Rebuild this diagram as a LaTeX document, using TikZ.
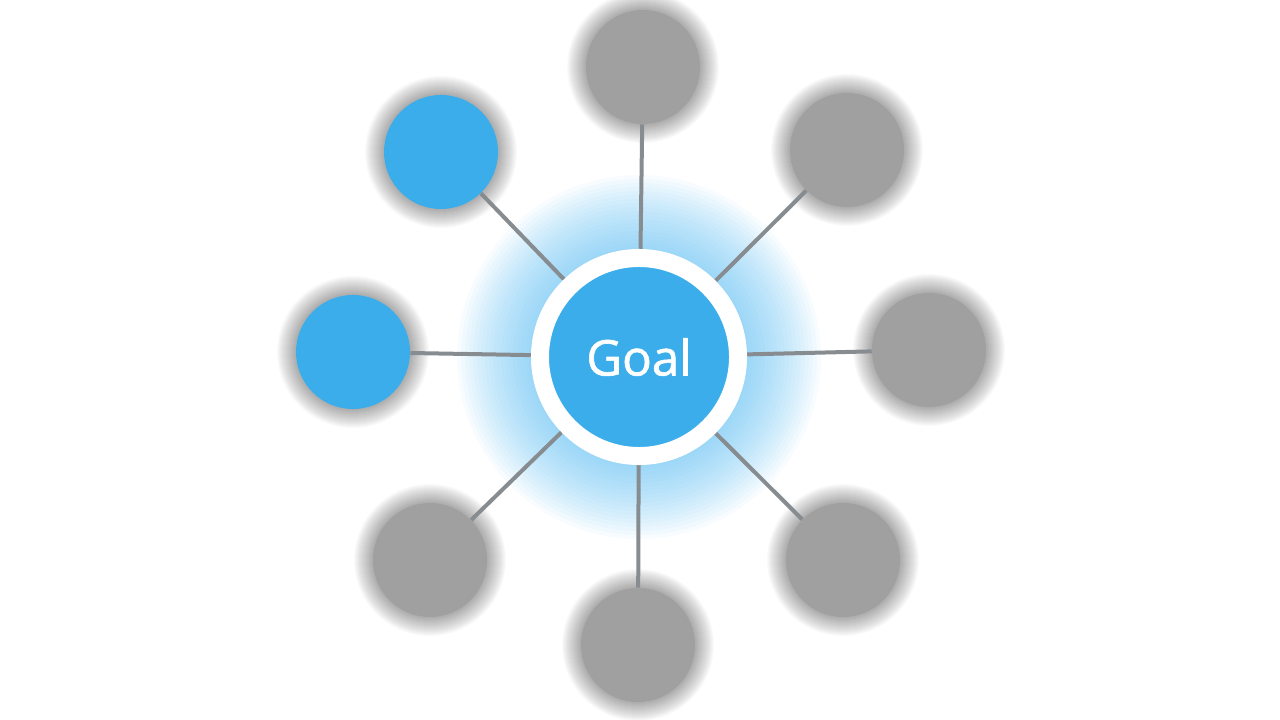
\documentclass[tikz,border=0pt]{standalone}
\usepackage{fontspec}
\setmainfont{Open Sans}
\newfontfamily\goalfont[FakeBold=1.2]{Open Sans}
\usetikzlibrary{backgrounds}

\definecolor{goalblue}{RGB}{58,173,234}
\definecolor{nodegray}{RGB}{160,160,160}
\definecolor{linkgray}{RGB}{135,140,145}
\definecolor{glowblue}{RGB}{70,180,240}

\begin{document}
\begin{tikzpicture}[x=0.025cm, y=-0.025cm,
	goal/.style={circle, fill=goalblue, draw=white, line width=0.45cm, minimum size=4.95cm, inner sep=0pt, text=white, font=\goalfont\fontsize{35}{40}\selectfont},
	sat/.style={circle, minimum size=2.85cm, inner sep=0pt},
	link/.style={draw=linkgray, line width=1mm}]

	\useasboundingbox (0,0) rectangle (1280,720);
				\node [goal] (goal) at (639,357) {Goal};
				\node [sat, fill=nodegray] (top) at (643,67) {};
				\node [sat, fill=nodegray] (topright) at (847,150) {};
				\node [sat, fill=nodegray] (right) at (929,350) {};
				\node [sat, fill=nodegray] (botright) at (843,560) {};
				\node [sat, fill=nodegray] (bottom) at (638,645) {};
				\node [sat, fill=nodegray] (botleft) at (430,560) {};
				\node [sat, fill=goalblue] (left) at (353,352) {};
				\node [sat, fill=goalblue] (topleft) at (441,152) {};
				% glow, halos and spokes behind the circles
				\begin{scope}[on background layer]
					\foreach \r in {110,114,...,182}
						\fill [glowblue, opacity=0.04] (goal.center) circle (\r);
					\foreach \n in {top,topright,right,botright,bottom,botleft,left,topleft}
						\foreach \r in {58,59,...,76}
							\fill [black, opacity=0.018] (\n.center) circle (\r);
					\foreach \n in {top,topright,right,botright,bottom,botleft,left,topleft}
						\draw [link] (goal) -- (\n);
				\end{scope}
\end{tikzpicture}
\end{document}
